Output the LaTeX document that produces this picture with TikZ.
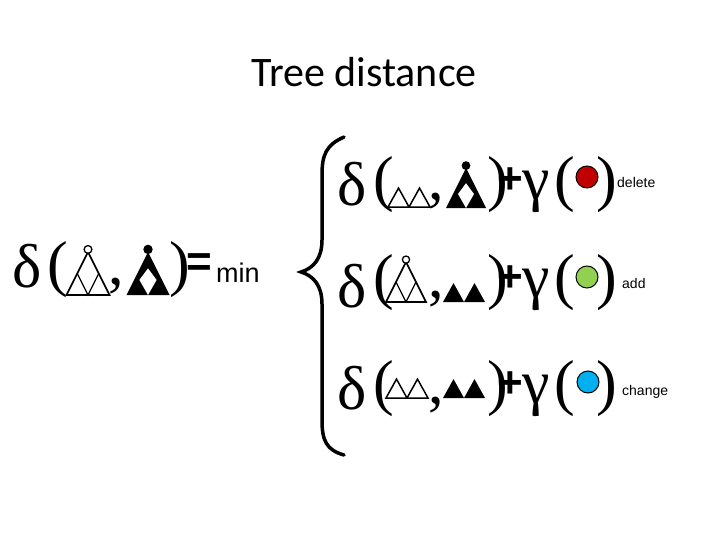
\documentclass[tikz,border=0pt]{standalone}
\usepackage{fontspec}
\setmainfont{Liberation Sans}
\newfontfamily\serifd{Liberation Serif}
\newfontfamily\titlef{Carlito}
\begin{document}
\begin{tikzpicture}[x=1pt,y=-1pt,
  big/.style={inner sep=0,anchor=base west,font=\fontsize{62}{62}\serifd},
  bold/.style={inner sep=0,anchor=base west,font=\fontsize{44}{44}\selectfont\bfseries},
  gk/.style={big,font=\fontsize{62}{62}\serifd},
  lbl/.style={inner sep=0,anchor=base west,font=\fontsize{14}{14}\selectfont},
  dot/.style={circle,draw=black,line width=1pt,minimum size=22pt,inner sep=0},
  wtree/.pic={\draw[line width=1.6pt,line join=miter] (0,0)--(-0.5,1)--(0.5,1)--cycle;
    \draw[line width=1.3pt] (-0.25,0.5)--(0,1)--(0.25,0.5);
    \draw[line width=1.3pt,fill=white] (0,-0.06) circle (0.09);},
  btree/.pic={\fill (0,0)--(-0.5,1)--(0.5,1)--cycle;
    \fill[white] (0,0.38)--(-0.2,0.65)--(0,1)--(0.2,0.65)--cycle;
    \fill (0,-0.06) circle (0.11);},
  wpair/.pic={\draw[line width=1.5pt] (-1,1)--(-0.5,0.1)--(0,1)--cycle (0,1)--(0.5,0.1)--(1,1)--cycle;},
  bpair/.pic={\fill (-1,1)--(-0.5,0.1)--(0,1)--cycle (0,1)--(0.5,0.1)--(1,1)--cycle;}]
\useasboundingbox (0,0) rectangle (728,546);
\node[inner sep=0,font=\fontsize{42}{42}\titlef] (title) at (364,72) {Tree distance};
% left
\node[gk] (ld) at (12,287) {δ};
\node[big] (lo) at (47,284) {(};
\pic at (88,252) [scale=43] {wtree};
\node[big] (lc) at (108,284) {,};
\pic at (148,252) [scale=43] {btree};
\node[big] (lcl) at (169,284) {)};
\node[bold] (eq) at (186,276) {=};
\node[inner sep=0,anchor=base west,font=\fontsize{27}{27}\selectfont] (min) at (216,282) {min};
% brace
\draw[line width=3.5pt,line cap=round] (344,137) .. controls (326,145) and (322,155) .. (322,175)
  -- (322,240) .. controls (322,258) and (314,268) .. (301,272)
  .. controls (314,276) and (322,286) .. (322,304) -- (322,420)
  .. controls (322,440) and (326,450) .. (344,455);
% rows
\foreach \y/\p/\n in {205/199/a,307/297/b,409/403/c}{
  \node[gk] (d\n) at (337,\y) {δ};
  \node[big] (o\n) at (373,\p) {(};
  \node[big] (c\n) at (428,\p) {,};
  \node[big] (p\n) at (487,\p) {)};
  \node[bold] (plus\n) at (497,\p-6) {+};
  \node[gk] (g\n) at (522,\p) {γ};
  \node[big] (oo\n) at (554,\p) {(};
  \node[big] (cc\n) at (596,\p) {)};
}
\pic at (409,186) [scale=21] {wpair};
\pic at (466,168) [scale=40] {btree};
\pic at (406,262) [scale=40] {wtree};
\pic at (464,281) [scale=21] {bpair};
\pic at (407,377) [scale=21] {wpair};
\pic at (464,377) [scale=21] {bpair};
\node[dot,fill={rgb,255:red,192;green,0;blue,0}] (c1) at (587,177) {};
\node[dot,fill={rgb,255:red,146;green,208;blue,80}] (c2) at (587,277) {};
\node[dot,fill={rgb,255:red,0;green,176;blue,240}] (c3) at (588,382) {};
\node[lbl] (l1) at (617,187) {delete};
\node[lbl] (l2) at (622,288) {add};
\node[lbl] (l3) at (622,395) {change};
\end{tikzpicture}
\end{document}
